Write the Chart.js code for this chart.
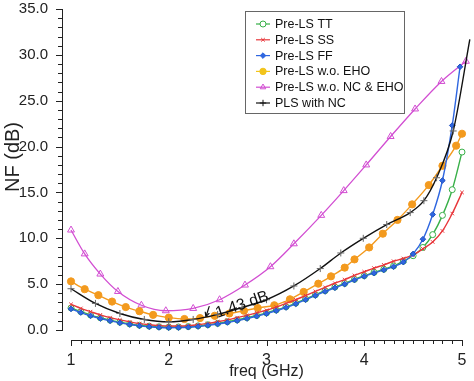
<!DOCTYPE html>
<html><head><meta charset="utf-8">
<script src="https://cdn.jsdelivr.net/npm/chart.js@4.4.0/dist/chart.umd.min.js"></script>
<style>html,body{margin:0;padding:0;background:#fff;overflow:hidden;width:474px;height:381px;}#wrap{width:474px;height:381px;overflow:hidden;}canvas{display:block;}</style>
</head><body><div id="wrap"><canvas id="c" width="474" height="381"></canvas></div>
<script>
// ---------- data ----------
const seriesLabels = ['Pre-LS TT','Pre-LS SS','Pre-LS FF','Pre-LS w.o. EHO','Pre-LS w.o. NC & EHO','PLS with NC'];

const ttFreq = [1.0,1.1,1.2,1.3,1.4,1.5,1.6,1.7,1.8,1.9,2.0,2.1,2.2,2.3,2.4,2.5,2.6,2.7,2.8,2.9,3.0,3.1,3.2,3.3,3.4,3.5,3.6,3.7,3.8,3.9,4.0,4.1,4.2,4.3,4.4,4.5,4.6,4.7,4.8,4.9,5.0];
const ttNF   = [2.4,2.0,1.63,1.33,1.07,0.85,0.66,0.52,0.42,0.35,0.32,0.33,0.37,0.45,0.57,0.72,0.9,1.1,1.33,1.58,1.86,2.18,2.53,2.93,3.38,3.83,4.28,4.68,5.08,5.52,5.92,6.28,6.62,6.98,7.5,8.1,9.0,10.4,12.5,15.3,19.4];

const ssFreq = [1.0,1.1,1.2,1.3,1.4,1.5,1.6,1.7,1.8,1.9,2.0,2.1,2.2,2.3,2.4,2.5,2.6,2.7,2.8,2.9,3.0,3.1,3.2,3.3,3.4,3.5,3.6,3.7,3.8,3.9,4.0,4.1,4.2,4.3,4.4,4.5,4.6,4.7,4.8,4.9,5.0];
const ssNF   = [2.8,2.35,2.0,1.65,1.35,1.1,0.88,0.7,0.57,0.48,0.43,0.43,0.47,0.57,0.72,0.9,1.1,1.35,1.6,1.87,2.15,2.5,2.9,3.3,3.75,4.2,4.65,5.1,5.5,5.95,6.35,6.75,7.1,7.5,7.8,8.2,8.85,9.6,10.8,12.7,15.0];

const ffFreq = [1.0,1.1,1.2,1.3,1.4,1.5,1.6,1.7,1.8,1.9,2.0,2.1,2.2,2.3,2.4,2.5,2.6,2.7,2.8,2.9,3.0,3.1,3.2,3.3,3.4,3.5,3.6,3.7,3.8,3.9,4.0,4.1,4.2,4.3,4.4,4.5,4.6,4.7,4.8,4.9,4.98];
const ffNF   = [2.3,1.9,1.55,1.25,1.0,0.78,0.6,0.45,0.35,0.28,0.25,0.26,0.3,0.38,0.5,0.65,0.82,1.02,1.25,1.5,1.78,2.1,2.45,2.85,3.3,3.75,4.2,4.6,5.0,5.45,5.85,6.2,6.55,6.9,7.4,8.3,9.9,12.6,16.3,22.3,28.7];

const ehoFreq = [1.0,1.14,1.28,1.42,1.56,1.70,1.84,2.0,2.16,2.32,2.47,2.62,2.77,2.91,3.08,3.24,3.38,3.53,3.66,3.80,3.90,4.05,4.19,4.34,4.49,4.66,4.80,4.94,5.0];
const ehoNF   = [5.3,4.45,3.8,3.1,2.5,2.05,1.65,1.35,1.2,1.3,1.55,1.8,2.1,2.4,2.7,3.35,4.15,5.05,5.85,6.8,7.7,9.0,10.5,12.0,13.7,15.8,17.9,20.1,21.4];

const ncehoFreq = [1.0,1.14,1.3,1.48,1.72,1.97,2.25,2.52,2.78,3.04,3.28,3.56,3.79,4.02,4.27,4.52,4.79,5.04];
const ncehoNF   = [10.9,8.3,6.1,4.2,2.7,2.1,2.35,3.3,4.9,6.9,9.4,12.5,15.2,18.0,21.1,24.1,27.1,29.3];

const plsFreq = [1.0,1.25,1.5,1.75,2.0,2.25,2.5,2.75,3.0,3.28,3.55,3.76,3.99,4.23,4.47,4.61,4.74,4.91,5.08];
const plsNF   = [4.5,2.9,1.8,1.15,0.9,1.15,1.7,2.45,3.3,4.8,6.7,8.4,10.0,11.5,12.8,14.1,16.6,21.7,31.7];

const xTicks = [1,2,3,4,5];
const yTicks = [0,5,10,15,20,25,30,35];
const annotationText = '1.43 dB';
const annotationArrow = {fromX:2.415, fromY:2.6, toX:2.38, toY:1.45};
const annotationPos = {x:2.75, y:2.75};

// ---------- styles ----------
const FONT = "'Liberation Sans', Arial, Helvetica, sans-serif";
Chart.defaults.font.family = FONT;
const styles = [
  {color:'#38b048', point:'circle',   r:3,   fill:'#ffffff', pcolor:'#38b048', lw:1.4, order:4, legendColor:'#38b048'},
  {color:'#e8363a', point:'crossRot', r:2.5, fill:'#e8363a', pcolor:'#e8363a', lw:1.4, order:3, legendColor:'#e8363a'},
  {color:'#2e66e0', point:'rectRot',  r:2.8, fill:'#2e66e0', pcolor:'#1f4fc0', lw:1.4, order:2, legendColor:'#2e66e0'},
  {color:'#f39a1e', point:'circle',   r:3.6, fill:'#f39a1e', pcolor:'#f39a1e', lw:1.4, order:5, legendColor:'#f2c41c'},
  {color:'#d24ed2', point:'triangle', r:4,   fill:'rgba(255,255,255,0)', pcolor:'#d24ed2', lw:1.3, order:6, legendColor:'#d24ed2'},
  {color:'#111111', point:'cross',    r:3.5, fill:'#666666', pcolor:'#666666', lw:1.4, order:1, legendColor:'#111111'}
];
const freqs = [ttFreq, ssFreq, ffFreq, ehoFreq, ncehoFreq, plsFreq];
const nfs = [ttNF, ssNF, ffNF, ehoNF, ncehoNF, plsNF];

const datasets = seriesLabels.map((lab,i)=>({
  label: lab,
  data: freqs[i].map((f,k)=>({x:f, y:nfs[i][k]})),
  borderColor: styles[i].color,
  borderWidth: styles[i].lw,
  backgroundColor: styles[i].fill,
  pointStyle: styles[i].point,
  pointRadius: styles[i].r,
  pointBorderColor: styles[i].pcolor,
  pointBackgroundColor: styles[i].fill,
  pointBorderWidth: 1,
  cubicInterpolationMode: 'monotone',
  fill: false,
  clip: false,
  order: styles[i].order
}));

function resetCtx(ctx){
  ctx.setTransform(1,0,0,1,0,0);
  ctx.globalAlpha = 1;
  ctx.globalCompositeOperation = 'source-over';
  ctx.setLineDash([]);
  ctx.shadowBlur = 0; ctx.shadowColor = 'rgba(0,0,0,0)';
}

function drawAxes(chart){
  const ctx = chart.ctx;
  const xs = chart.scales.x, ys = chart.scales.y;
  ctx.save();
  resetCtx(ctx);
  ctx.fillStyle = '#222222';
  const x1 = Math.round(xs.getPixelForValue(1));
  const x5 = Math.round(xs.getPixelForValue(5));
  const y0 = Math.round(ys.getPixelForValue(0));
  const y35 = Math.round(ys.getPixelForValue(35));
  const yx = x1 - 9;
  ctx.fillRect(yx, y35, 1, y0 - y35 + 1);
  for (let v = 0; v <= 35; v++){
    const py = Math.round(ys.getPixelForValue(v));
    const len = (v % 5 === 0) ? 6 : 4;
    ctx.fillRect(yx - len, py, len, 1);
  }
  const xy = y0 + 10;
  ctx.fillRect(x1, xy, x5 - x1 + 1, 1);
  for (let i = 0; i <= 40; i++){
    const px = Math.round(xs.getPixelForValue(1 + i/10));
    const len = (i % 10 === 0) ? 6 : 4;
    ctx.fillRect(px, xy, 1, len);
  }
  ctx.restore();
}

function drawExtras(chart){
  const ctx = chart.ctx;
  const xs = chart.scales.x, ys = chart.scales.y;
  ctx.save();
  resetCtx(ctx);
  // y title
  ctx.fillStyle = '#222';
  ctx.font = "20px " + FONT;
  ctx.textAlign = 'center'; ctx.textBaseline = 'middle';
  ctx.save();
  ctx.translate(13, 157);
  ctx.rotate(-Math.PI/2);
  ctx.fillText('NF (dB)', 0, 0);
  ctx.restore();

  // annotation
  const ax1 = xs.getPixelForValue(annotationArrow.fromX), ay1 = ys.getPixelForValue(annotationArrow.fromY);
  const ax2 = xs.getPixelForValue(annotationArrow.toX), ay2 = ys.getPixelForValue(annotationArrow.toY);
  ctx.strokeStyle = '#111'; ctx.lineWidth = 1.2;
  ctx.beginPath(); ctx.moveTo(ax1, ay1); ctx.lineTo(ax2, ay2); ctx.stroke();
  const ang = Math.atan2(ay2-ay1, ax2-ax1);
  ctx.beginPath();
  ctx.moveTo(ax2, ay2);
  ctx.lineTo(ax2 - 5*Math.cos(ang-0.45), ay2 - 5*Math.sin(ang-0.45));
  ctx.moveTo(ax2, ay2);
  ctx.lineTo(ax2 - 5*Math.cos(ang+0.45), ay2 - 5*Math.sin(ang+0.45));
  ctx.stroke();
  ctx.save();
  ctx.translate(xs.getPixelForValue(annotationPos.x), ys.getPixelForValue(annotationPos.y));
  ctx.rotate(-19*Math.PI/180);
  ctx.font = "16px " + FONT;
  ctx.fillStyle = '#111';
  ctx.textAlign = 'center'; ctx.textBaseline = 'middle';
  ctx.fillText(annotationText, 0, 0);
  ctx.restore();

  // legend
  const lx = 245.5, ly = 11.5, lw = 159, lh = 102;
  ctx.fillStyle = '#fff';
  ctx.fillRect(lx, ly, lw, lh);
  ctx.strokeStyle = '#666'; ctx.lineWidth = 1;
  ctx.strokeRect(lx, ly, lw, lh);
  ctx.font = "12.5px " + FONT;
  ctx.textAlign = 'left'; ctx.textBaseline = 'middle';
  seriesLabels.forEach((lab,i)=>{
    const ry = 24 + i*15.8;
    const st = styles[i];
    ctx.strokeStyle = st.legendColor; ctx.lineWidth = 1.2;
    ctx.beginPath(); ctx.moveTo(256, ry); ctx.lineTo(270, ry); ctx.stroke();
    ctx.fillStyle = (st.fill.indexOf('rgba')===0 || st.fill==='#ffffff') ? st.fill : st.legendColor;
    ctx.strokeStyle = (i===5) ? '#111' : st.legendColor;
    ctx.lineWidth = 1;
    Chart.helpers.drawPoint(ctx, {pointStyle: st.point, radius: Math.min(st.r,3.2), rotation: 0, borderWidth: 1}, 263, ry);
    ctx.fillStyle = '#111';
    ctx.fillText(lab, 275, ry+0.5);
  });
  ctx.restore();
}

const extrasPlugin = {
  id: 'customExtras',
  afterDraw(chart){
    drawExtras(chart);
    drawAxes(chart);
  }
};

new Chart(document.getElementById('c'), {
  type: 'line',
  data: { datasets },
  options: {
    responsive: false,
    animation: false,
    devicePixelRatio: 1,
    layout: { padding: { top: 9, right: 12, bottom: 0, left: 0 } },
    plugins: { legend: { display: false }, tooltip: { enabled: false } },
    scales: {
      x: {
        type: 'linear', min: 1, max: 5,
        grid: { display: false, drawTicks: true, tickLength: 21 }, border: { display: false },
        afterBuildTicks: s => { s.ticks = xTicks.map(v=>({value:v})); },
        ticks: { padding: 0, maxRotation: 0, autoSkip: false, color: '#222', font: { size: 16 }, callback: v => String(v) },
        title: { display: true, text: 'freq (GHz)', color: '#222', font: { size: 16 }, padding: { top: 0, bottom: 0 } },
        afterFit: s => { s.height = 51; }
      },
      y: {
        type: 'linear', min: 0, max: 35,
        grid: { display: false, drawTicks: true, tickLength: 23 }, border: { display: false },
        afterBuildTicks: s => { s.ticks = yTicks.map(v=>({value:v})); },
        ticks: { padding: 0, autoSkip: false, color: '#222', font: { size: 15 }, callback: v => Number(v).toFixed(1) },
        afterFit: s => { s.width = 71; }
      }
    }
  },
  plugins: [extrasPlugin]
});
</script>
</body></html>
